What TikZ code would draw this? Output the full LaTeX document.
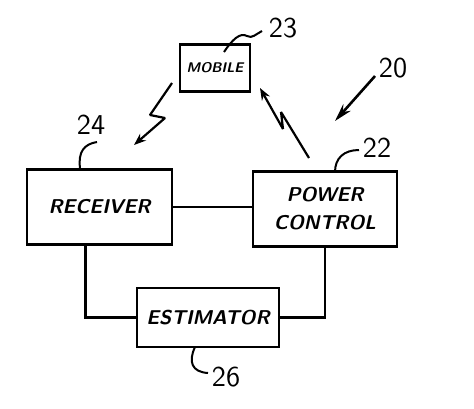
\documentclass[tikz,border=0pt]{standalone}
\usepackage{tikz}
\usetikzlibrary{arrows.meta}
\tikzset{
  blk/.style={draw,line width=1.2pt,inner sep=0pt,align=center,font=\sffamily\itshape\bfseries},
  wire/.style={line width=1.1pt},
  bolt/.style={line width=1.1pt,line join=bevel,-{Stealth[length=6pt,width=4.5pt]}},
  ref/.style={line width=1.3pt,-{Stealth[length=9pt,width=5pt]}},
  lead/.style={line width=1pt},
  lbl/.style={font=\Large\sffamily,inner sep=0pt}
}

\begin{document}
\begin{tikzpicture}[x=0.5pt,y=-0.5pt]
\useasboundingbox (0,0) rectangle (474,408);
\node[blk,minimum width=35pt,minimum height=23.5pt] (mob) at (215,68) {\scriptsize MOBILE};
\node[blk,minimum width=72.5pt,minimum height=37.5pt] (rec) at (99.5,207) {RECEIVER};
\node[blk,minimum width=72pt,minimum height=37.5pt] (pow) at (325,209) {POWER\\[2pt]CONTROL};
\node[blk,minimum width=71pt,minimum height=29.5pt] (est) at (208,317.5) {ESTIMATOR};
\draw[wire] (rec.east) -- (rec.east -| pow.west);
\draw[wire] ([xshift=-7pt]rec.south) |- (est.west);
\draw[wire] (pow.south) |- (est.east);
\coordinate (m1) at (172,83); \coordinate (r1) at (134,145);
\draw[bolt] (m1) -- (150,115) -- (165,118) -- (r1);
\coordinate (p1) at (309,158); \coordinate (m2) at (260,88);
\draw[bolt] (p1) -- (281,112) -- (283,129) -- (m2);
\coordinate (s20) at (375,76); \coordinate (t20) at (335,121);
\draw[ref] (s20) -- (t20); \node[lbl] (n20) at (393,68) {20};
\node[lbl] (n23) at (283,28) {23};
\draw[lead] (224,52) .. controls (232,40) and (240,32) .. (247,36) .. controls (252,39) and (256,34) .. (262,31);
\node[lbl] (n24) at (91,125) {24};
\draw[lead] (80,168) .. controls (78,152) and (84,144) .. (97,142);
\node[lbl] (n22) at (377,148) {22};
\draw[lead] (335,172) .. controls (335,158) and (344,150) .. (359,150);
\node[lbl] (n26) at (226,377) {26};
\draw[lead] (195,347) .. controls (188,362) and (192,372) .. (208,373);
\end{tikzpicture}
\end{document}
